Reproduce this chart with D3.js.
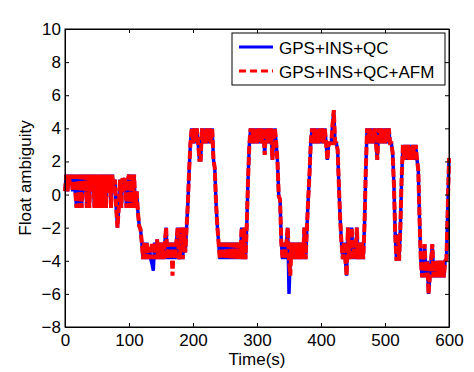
<!DOCTYPE html>
<html>
<head>
<meta charset="utf-8">
<script src="https://cdn.jsdelivr.net/npm/d3@7"></script>
<style>
  body { margin: 0; background: #fff; }
  text { font-family: "Liberation Sans", Arial, sans-serif; fill: #000; }
</style>
</head>
<body>
<div id="chart"></div>
<script>
// sample times (s), one sample every 2 s
let time = d3.range(0, 601, 2)

// float ambiguity, GPS+INS+QC+AFM (10 samples per row)
let afm = [
  0.2, 1.2, 0.2, 1.2, 0.6, 1.2, 0.2, 1.2, 0.2, -0.8,        // 0
  1.2, -0.8, 1.2, -0.8, 1.2, 0.2, 1.2, -0.8, 1.2, -0.8,     // 20
  1.2, 0.2, 1.2, -0.8, 1.2, -0.8, 0.2, 1.2, -0.8, 1.2,      // 40
  -0.8, 1.2, -0.8, 1.2, 0.2, 1.2, -0.8, 1.2, 0.2, 0.9,      // 60
  -0.8, -2.0, -0.8, 0.9, -0.8, 1.0, 0.2, 1.0, -0.8, 0.9,    // 80
  1.2, -0.8, 1.2, -0.8, 1.2, -0.8, 0.2, -1.1, -1.9, -2.1,   // 100
  -2.9, -3.9, -2.9, -3.9, -2.9, -3.9, -3.2, -3.9, -2.9, -3.9, // 120
  -2.9, -3.9, -2.7, -3.9, -2.9, -3.9, -2.9, -3.9, -2.9, -2.0, // 140
  -3.9, -2.9, -3.9, -2.9, -4.9, -2.9, -3.9, -2.9, -2.0, -3.9, // 160
  -3.5, -2.0, -3.9, -2.0, -3.5, -2.0, -0.5, 1.5, 3.1, 4.0,  // 180
  3.1, 4.0, 3.1, 4.0, 3.1, 2.1, 2.1, 4.0, 3.1, 4.0,         // 200
  3.1, 4.0, 3.1, 4.0, 3.1, 4.0, 2.1, 1.6, -0.5, -1.9,       // 220
  -2.9, -3.9, -2.9, -3.9, -2.9, -3.9, -2.9, -3.9, -2.9, -3.9, // 240
  -2.9, -3.9, -2.9, -3.9, -2.9, -3.9, -2.9, -3.9, -2.0, -3.9, // 260
  -2.0, -3.9, -1.9, 0.9, 3.0, 4.0, 3.1, 4.0, 3.1, 4.0,      // 280
  3.1, 4.0, 3.1, 4.0, 3.1, 4.0, 2.4, 4.0, 3.1, 4.0,         // 300
  3.1, 4.0, 2.1, 3.1, 4.0, 3.1, 2.0, -0.1, -0.3, -2.9,      // 320
  -3.9, -2.9, -3.9, -2.9, -2.0, -3.9, -4.9, -2.9, -3.9, -2.9, // 340
  -3.9, -2.9, -3.9, -2.9, -3.9, -2.9, -3.9, -2.0, -3.9, -2.0, // 360
  -0.3, 1.2, 3.1, 4.0, 3.1, 4.0, 3.1, 4.0, 3.1, 4.0,        // 380
  3.1, 4.0, 3.1, 4.0, 3.1, 2.1, 3.1, 3.1, 3.1, 4.2,         // 400
  5.1, 3.1, 3.1, 2.7, 0.5, -1.5, -2.9, -3.9, -2.9, -3.9,    // 420
  -4.9, -2.0, -3.9, -2.9, -2.0, -3.9, -2.9, -3.9, -2.0, -3.9, // 440
  -2.9, -3.9, -2.9, -3.9, -1.8, 1.5, 4.0, 3.1, 4.0, 3.1,    // 460
  4.0, 3.1, 4.0, 3.1, 2.1, 4.0, 3.1, 4.0, 3.1, 4.0,         // 480
  3.1, 4.0, 3.1, 4.0, 3.1, 3.1, 2.5, 0.5, -2.5, -4.0,       // 500
  -2.4, -4.0, -2.0, 1.0, 3.0, 2.1, 3.0, 2.1, 3.0, 2.1,      // 520
  3.0, 2.1, 3.0, 2.1, 3.0, 2.1, 1.5, -1.5, -4.0, -5.0,      // 540
  -4.0, -3.0, -5.0, -4.0, -6.0, -5.0, -4.0, -3.0, -5.0, -4.0, // 560
  -5.0, -4.0, -5.0, -4.0, -5.0, -4.0, -5.0, -4.0, -3.9, -0.9, // 580
  2.2                                                          // 600
]

// samples where GPS+INS+QC differs from the AFM curve: [time, value]
let qcOnly = [[136, -4.2], [138, -4.6], [168, -3.9], [350, -6.0], [352, -3.9]]

let xTicks = [0, 100, 200, 300, 400, 500, 600]
let yTicks = [-8, -6, -4, -2, 0, 2, 4, 6, 8, 10]
let seriesNames = ["GPS+INS+QC", "GPS+INS+QC+AFM"]

let width = 474, height = 372
let margin = {left: 65, right: 25, top: 29, bottom: 45}

let svg = d3.select("#chart")
    .append("svg")
        .attr("width", width)
        .attr("height", height)

let x = d3.scaleLinear().domain([0, 600]).range([margin.left, width - margin.right])
let y = d3.scaleLinear().domain([-8, 10]).range([height - margin.bottom, margin.top])

//build both series from the shared samples
let qcMap = new Map(qcOnly)
let redData = time.map((t, i) => ({t: t, v: afm[i]}))
let blueData = time.map((t, i) => ({t: t, v: qcMap.has(t) ? qcMap.get(t) : afm[i]}))

let line = d3.line()
    .x(d => x(d.t))
    .y(d => y(d.v))

//blue first, dashed red on top
svg.append("path")
    .datum(blueData)
    .attr("d", line)
    .attr("fill", "none")
    .attr("stroke", "#0000ff")
    .attr("stroke-width", 3.4)

svg.append("path")
    .datum(redData)
    .attr("d", line)
    .attr("fill", "none")
    .attr("stroke", "#ff0000")
    .attr("stroke-width", 4)
    .attr("stroke-dasharray", "8,3")

//axes, matlab style ticks pointing inward on all sides
let fontSize = 17
svg.append("g")
    .attr("transform", `translate(0, ${y(-8)})`)
    .call(d3.axisBottom(x).tickValues(xTicks).tickSizeInner(-4).tickSizeOuter(0).tickPadding(7))
    .call(g => g.selectAll("text").style("font-size", fontSize))

svg.append("g")
    .attr("transform", `translate(${x(0)}, 0)`)
    .call(d3.axisLeft(y).tickValues(yTicks).tickSizeInner(-4).tickSizeOuter(0).tickPadding(4))
    .call(g => g.selectAll("text").style("font-size", fontSize))

svg.append("g")
    .attr("transform", `translate(0, ${y(10)})`)
    .call(d3.axisTop(x).tickValues(xTicks).tickSizeInner(-4).tickSizeOuter(0).tickFormat(""))

svg.append("g")
    .attr("transform", `translate(${x(600)}, 0)`)
    .call(d3.axisRight(y).tickValues(yTicks).tickSizeInner(-4).tickSizeOuter(0).tickFormat(""))

svg.selectAll(".domain, .tick line").attr("stroke", "#000")

//frame
svg.append("rect")
    .attr("x", x(0))
    .attr("y", y(10))
    .attr("width", x(600) - x(0))
    .attr("height", y(-8) - y(10))
    .attr("fill", "none")
    .attr("stroke", "#000")

//axis titles
svg.append("text")
    .attr("x", (x(0) + x(600)) / 2)
    .attr("y", 365)
    .style("text-anchor", "middle")
    .style("font-size", fontSize)
    .text("Time(s)")

svg.append("text")
    .attr("transform", `translate(31, ${(y(10) + y(-8)) / 2}) rotate(-90)`)
    .style("text-anchor", "middle")
    .style("font-size", fontSize)
    .text("Float ambiguity")

//legend
let leg = svg.append("g").attr("class", "legend")
leg.append("rect")
    .attr("x", 232)
    .attr("y", 33)
    .attr("width", 213)
    .attr("height", 52)
    .attr("fill", "#fff")
    .attr("stroke", "#000")

let legColors = ["#0000ff", "#ff0000"]
let legDash = [null, "7,4"]
seriesNames.forEach(function(name, i) {
    let ly = 47 + i * 24
    leg.append("line")
        .attr("x1", 239).attr("x2", 273)
        .attr("y1", ly).attr("y2", ly)
        .attr("stroke", legColors[i])
        .attr("stroke-width", 3)
        .attr("stroke-dasharray", legDash[i])
    leg.append("text")
        .attr("x", 279)
        .attr("y", ly + 6.5)
        .style("font-size", fontSize)
        .text(name)
})
</script>
</body>
</html>
